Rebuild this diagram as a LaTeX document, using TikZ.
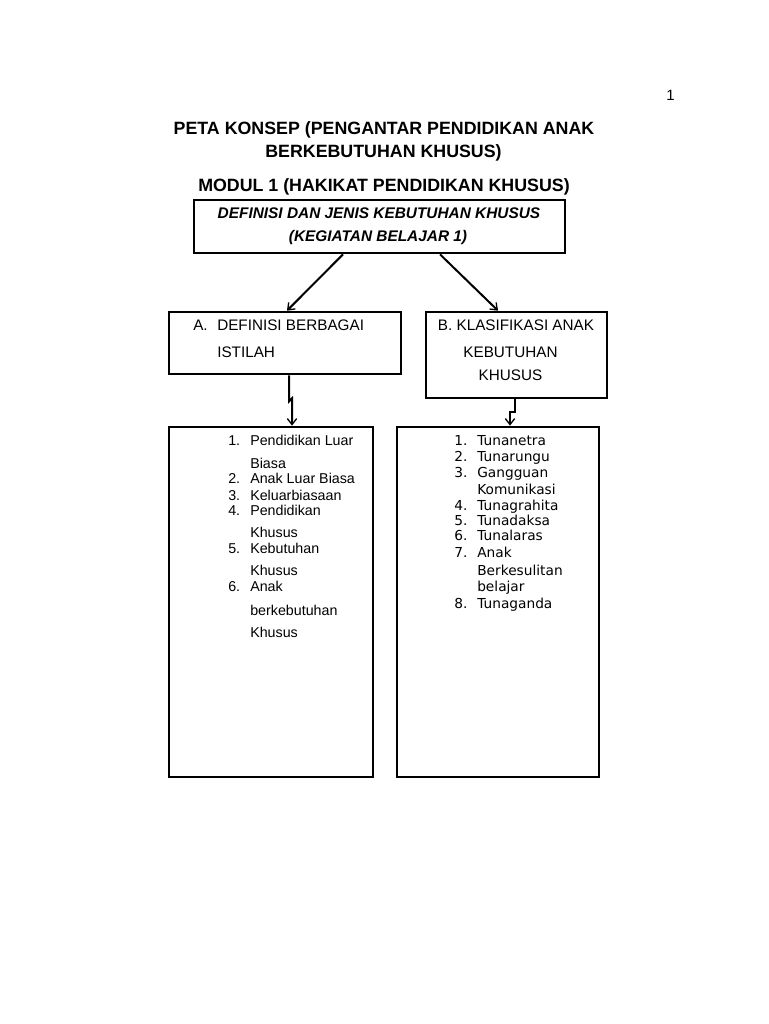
\documentclass[tikz,border=0pt]{standalone}
\usepackage{fontspec}
\setmainfont{Liberation Sans}
\newfontfamily\dejavu{DejaVu Sans}
\usetikzlibrary{arrows.meta,calc}

\begin{document}
\begin{tikzpicture}[x=0.75pt,y=0.75pt,yscale=-1,xscale=1,
    box/.style={draw,line width=2pt,inner sep=0pt},
    conn/.style={line width=1.5pt,-{Straight Barb[length=4.5pt,width=7pt,line width=1pt]}},
    lbl/.style={inner sep=0pt}]
        \useasboundingbox (0,0) rectangle (768,1024);

        % page number and titles
        \node [lbl,anchor=base,font=\fontsize{11.2}{13}\selectfont] (page) at (670.5,100.7) {1};
        \node [lbl,anchor=base,font=\fontsize{13.35}{15}\selectfont\bfseries] (title1) at (384,134) {PETA KONSEP (PENGANTAR PENDIDIKAN ANAK};
        \node [lbl,anchor=base,font=\fontsize{13.35}{15}\selectfont\bfseries] (title2) at (383.5,157.5) {BERKEBUTUHAN KHUSUS)};
        \node [lbl,anchor=base,font=\fontsize{13.35}{15}\selectfont\bfseries] (modul) at (384,191.5) {MODUL 1 (HAKIKAT PENDIDIKAN KHUSUS)};

        % boxes
        \node [box,minimum width=278.25pt,minimum height=39.75pt] (top) at (379.5,226.5) {};
        \node [box,minimum width=174pt,minimum height=46.5pt] (boxA) at (285,343) {};
        \node [box,minimum width=135.75pt,minimum height=64.5pt] (boxB) at (516.5,355) {};
        \node [box,minimum width=153pt,minimum height=262.5pt] (listA) at (271,602) {};
        \node [box,minimum width=151.5pt,minimum height=262.5pt] (listB) at (498,602) {};

        % connectors
        \draw [conn] ($(top.south)+(-36.5,0)$) -- ($(boxA.north)+(2,0)$);
        \draw [conn] ($(top.south)+(60.5,0)$) -- ($(boxB.north)+(-18.5,0)$);
        \draw [conn] ($(boxA.south)+(4,0)$) -- ++(0,26) -- ++(3,-3) -- ($(listA.north)+(21,0)$);
        \draw [conn] ($(boxB.south)+(-1.5,0)$) -- ++(0,13) -- ++(-5,0) -- ($(listB.north)+(12,0)$);

        % box texts
        \node [lbl,anchor=base,font=\fontsize{11.55}{13}\selectfont\bfseries\itshape] (top1) at (379,218.5) {DEFINISI DAN JENIS KEBUTUHAN KHUSUS};
        \node [lbl,anchor=base,font=\fontsize{11.55}{13}\selectfont\bfseries\itshape] (top2) at (378,241) {(KEGIATAN BELAJAR 1)};
        \node [lbl,anchor=base west,font=\fontsize{11.45}{13}\selectfont] (a0) at (193,330.3) {A.};
        \node [lbl,anchor=base west,font=\fontsize{11.45}{13}\selectfont] (a1) at (217,330.3) {DEFINISI BERBAGAI};
        \node [lbl,anchor=base west,font=\fontsize{11.45}{13}\selectfont] (a2) at (217,357) {ISTILAH};
        \node [lbl,anchor=base,font=\fontsize{11.45}{13}\selectfont] (b1) at (516,330.3) {B. KLASIFIKASI ANAK};
        \node [lbl,anchor=base,font=\fontsize{11.45}{13}\selectfont] (b2) at (510.5,357) {KEBUTUHAN};
        \node [lbl,anchor=base,font=\fontsize{11.45}{13}\selectfont] (b3) at (510.5,380.3) {KHUSUS};

        % left list
        \foreach \y/\n/\t [count=\i] in {445.5/1./Pendidikan Luar, 468//Biasa, 483.5/2./Anak Luar Biasa,
            500/3./Keluarbiasaan, 515/4./Pendidikan, 537.5//Khusus, 553/5./Kebutuhan, 575.5//Khusus,
            591.5/6./Anak, 615//berkebutuhan, 637//Khusus}{
            \node [lbl,anchor=base west,font=\fontsize{10.7}{12}\selectfont] (lnA\i) at (228,\y) {\n};
            \node [lbl,anchor=base west,font=\fontsize{10.7}{12}\selectfont] (ltA\i) at (250,\y) {\t};
        }

        % right list
        \foreach \y/\n/\t [count=\i] in {445.7/1./Tunanetra, 461/2./Tunarungu, 477.3/3./Gangguan,
            494//Komunikasi, 510.3/4./Tunagrahita, 525/5./Tunadaksa, 540.7/6./Tunalaras,
            557.3/7./Anak, 575//Berkesulitan, 591//belajar, 608/8./Tunaganda}{
            \node [lbl,anchor=base west,font=\dejavu\fontsize{10.3}{12}\selectfont] (lnB\i) at (454,\y) {\n};
            \node [lbl,anchor=base west,font=\dejavu\fontsize{10.3}{12}\selectfont] (ltB\i) at (477,\y) {\t};
        }
    \end{tikzpicture}
\end{document}
